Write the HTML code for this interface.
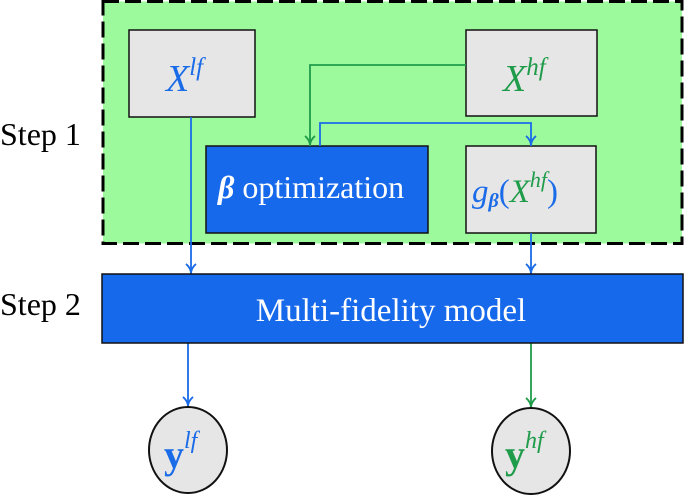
<!DOCTYPE html>
<html><head><meta charset="utf-8"><style>
html,body{margin:0;padding:0;background:#fff;width:685px;height:496px;overflow:hidden}
</style></head><body>
<svg width="685" height="496" viewBox="0 0 685 496" xmlns="http://www.w3.org/2000/svg" font-family="Liberation Serif, serif">
<rect x="103" y="1.5" width="579" height="242" fill="#9cfa9c" stroke="#000" stroke-width="3" stroke-dasharray="16,6"/>
<text x="0" y="145" font-size="32">Step 1</text>
<text x="0" y="315" font-size="32">Step 2</text>
<rect x="129" y="30" width="126" height="87" fill="#e6e6e6" stroke="#111" stroke-width="1.5"/>
<rect x="466" y="30" width="131" height="86" fill="#e6e6e6" stroke="#111" stroke-width="1.5"/>
<rect x="206" y="146" width="222" height="87" fill="#1769ec" stroke="#111" stroke-width="1.5"/>
<rect x="466" y="146" width="130" height="87" fill="#e6e6e6" stroke="#111" stroke-width="1.5"/>
<text x="166" y="91" font-size="38" font-style="italic" fill="#1a6be8">X<tspan font-size="25" dy="-16">lf</tspan></text>
<text x="503" y="91" font-size="38" font-style="italic" fill="#1f9c4a">X<tspan font-size="25" dy="-16">hf</tspan></text>
<text x="218" y="198" font-size="32" fill="#fff"><tspan font-style="italic" font-weight="bold">β</tspan> optimization</text>
<text x="472" y="202" font-size="33" fill="#1a6be8"><tspan font-style="italic">g</tspan><tspan font-size="20" font-weight="bold" font-style="italic" dy="5">β</tspan><tspan dy="-5">(</tspan><tspan fill="#1f9c4a" font-style="italic">X</tspan><tspan fill="#1f9c4a" font-style="italic" font-size="22" dy="-15">hf</tspan><tspan dy="15">)</tspan></text>
<g fill="none" stroke-width="1.8">
<path d="M466,65 H310 V145" stroke="#1f9c4a"/>
<path d="M305,136 Q310,140 310,146 Q310,140 315,136" stroke="#1f9c4a"/>
<path d="M320,146 V123 H531 V145" stroke="#1a6be8"/>
<path d="M526,136 Q531,140 531,146 Q531,140 536,136" stroke="#1a6be8"/>
<path d="M191,117 V273" stroke="#1a6be8"/>
<path d="M186,264 Q191,268 191,274 Q191,268 196,264" stroke="#1a6be8"/>
<path d="M531,233 V273" stroke="#1a6be8"/>
<path d="M526,264 Q531,268 531,274 Q531,268 536,264" stroke="#1a6be8"/>
<path d="M188,343 V406" stroke="#1a6be8"/>
<path d="M183,397 Q188,401 188,407 Q188,401 193,397" stroke="#1a6be8"/>
<path d="M531,343 V407" stroke="#1f9c4a"/>
<path d="M526,398 Q531,402 531,408 Q531,402 536,398" stroke="#1f9c4a"/>
</g>
<rect x="102" y="274" width="581" height="69" fill="#1769ec" stroke="#111" stroke-width="1.5"/>
<text x="391" y="321" font-size="33" fill="#fff" text-anchor="middle">Multi-fidelity model</text>
<ellipse cx="188" cy="450" rx="39" ry="43" fill="#e6e6e6" stroke="#111" stroke-width="2"/>
<ellipse cx="531" cy="451" rx="39" ry="43" fill="#e6e6e6" stroke="#111" stroke-width="2"/>
<text x="164" y="468" font-size="40" font-weight="bold" fill="#1a6be8">y<tspan font-size="24" font-weight="normal" font-style="italic" dy="-20">lf</tspan></text>
<text x="505" y="468" font-size="40" font-weight="bold" fill="#1f9c4a">y<tspan font-size="24" font-weight="normal" font-style="italic" dy="-20">hf</tspan></text>
</svg>
</body></html>
